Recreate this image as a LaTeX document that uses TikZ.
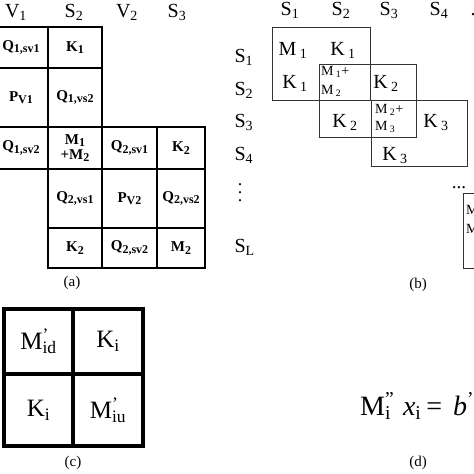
\documentclass[tikz,border=0pt]{standalone}
\usepackage{fontspec}
\setmainfont{Liberation Serif}
\newcommand{\lo}[1]{\raisebox{-0.35ex}{\fontsize{12}{12}\selectfont #1}}
\newcommand{\hilo}[2]{\rlap{\textsuperscript{#1}}\textsubscript{#2}}
\newcommand{\gap}[1]{\,\textsubscript{#1}}

\begin{document}
\begin{tikzpicture}[x=1pt,y=-1pt,
    cell/.style={draw,line width=2.6pt,inner sep=0pt,align=center,
      font=\bfseries\fontsize{15}{15}\selectfont},
    bigcell/.style={draw,line width=4pt,inner sep=0pt,
      font=\fontsize{25}{27}\selectfont},
    hdr/.style={anchor=base,font=\fontsize{20}{22}\selectfont},
    ent/.style={anchor=base,font=\fontsize{20}{21}\selectfont},
    tiny/.style={anchor=north west,inner sep=0pt,align=left,
      font=\fontsize{14}{19}\selectfont},
    caption/.style={font=\fontsize{15}{17}\selectfont},
    blk/.style={line width=0.9pt,black!80}]
  \useasboundingbox (0,0) rectangle (474,474);
  \clip (0,0) rectangle (474,474);

  % (a)
  \node[hdr] (hv1) at (16,17)  {V\textsubscript{1}};
  \node[hdr] (hs2) at (74,17)  {S\textsubscript{2}};
  \node[hdr] (hv2) at (127,17) {V\textsubscript{2}};
  \node[hdr] (hs3) at (177,17) {S\textsubscript{3}};

  \node[cell,minimum width=54pt,minimum height=41pt] (qa) at (21,47.5) {Q\lo{1,sv1}};
  \node[cell,minimum width=54pt,minimum height=41pt] (ka) at (75,47.5) {K\lo{1}};
  \node[cell,minimum width=54pt,minimum height=59pt] (pa) at (21,97.5) {P\lo{V1}};
  \node[cell,minimum width=54pt,minimum height=59pt] (qb) at (75,97.5) {Q\lo{1,vs2}};
  \node[cell,minimum width=54pt,minimum height=42pt] (qc) at (21,148) {Q\lo{1,sv2}};
  \node[cell,minimum width=54pt,minimum height=42pt] (mm) at (75,148) {M\lo{1}\\+M\lo{2}};
  \node[cell,minimum width=55pt,minimum height=42pt] (qd) at (129.5,148) {Q\lo{2,sv1}};
  \node[cell,minimum width=48pt,minimum height=42pt] (kb) at (181,148) {K\lo{2}};
  \node[cell,minimum width=54pt,minimum height=59pt] (qe) at (75,198.5) {Q\lo{2,vs1}};
  \node[cell,minimum width=55pt,minimum height=59pt] (pb) at (129.5,198.5) {P\lo{V2}};
  \node[cell,minimum width=48pt,minimum height=59pt] (qf) at (181,198.5) {Q\lo{2,vs2}};
  \node[cell,minimum width=54pt,minimum height=40pt] (kc) at (75,248) {K\lo{2}};
  \node[cell,minimum width=55pt,minimum height=40pt] (qg) at (129.5,248) {Q\lo{2,sv2}};
  \node[cell,minimum width=48pt,minimum height=40pt] (mb) at (181,248) {M\lo{2}};
  \node[caption] (capa) at (72,283) {(a)};

  % row labels
  \node[hdr,anchor=base west] (r1) at (231,62)  {S\textsubscript{1}};
  \node[hdr,anchor=base west] (r2) at (231,95)  {S\textsubscript{2}};
  \node[hdr,anchor=base west] (r3) at (231,127) {S\textsubscript{3}};
  \node[hdr,anchor=base west] (r4) at (231,160) {S\textsubscript{4}};
  \node[align=center,inner sep=0pt,font=\fontsize{18}{8}\selectfont] (rd) at (240,193) {.\\.\\.};
  \node[hdr,anchor=base west] (rl) at (231,252) {S\textsubscript{L}};

  % (b)
  \node[hdr] (bs1) at (290,15) {S\textsubscript{1}};
  \node[hdr] (bs2) at (341,15) {S\textsubscript{2}};
  \node[hdr] (bs3) at (389,15) {S\textsubscript{3}};
  \node[hdr] (bs4) at (439,15) {S\textsubscript{4}};
  \node[hdr,anchor=base west] (bsd) at (467,15) {...};

  \draw[blk] (272,27) rectangle (370,100);
  \draw[blk] (319,64) rectangle (416,137);
  \draw[blk] (371,100) rectangle (467,166);
  \draw[blk] (463,193) rectangle (490,268);

  \node[ent] (e11) at (293,55)  {M\gap{1}};
  \node[ent] (e12) at (343,55)  {K\gap{1}};
  \node[ent] (e21) at (295,88)  {K\gap{1}};
  \node[tiny] (e22) at (321,66) {M\gap{1}+\\M\gap{2}};
  \node[ent] (e23) at (386,88)  {K\gap{2}};
  \node[ent] (e32) at (345,127) {K\gap{2}};
  \node[tiny,font=\fontsize{14}{17}\selectfont] (e33) at (375,104) {M\gap{2}+\\M\gap{3}};
  \node[ent] (e34) at (436,127) {K\gap{3}};
  \node[ent] (e43) at (395,160) {K\gap{3}};
  \node[hdr,font=\fontsize{19}{19}\selectfont] (edots) at (459,188) {...};
  \node[tiny] (e55) at (466,205) {M\\M};
  \node[caption] (capb) at (418,285) {(b)};

  % (c)
  \node[bigcell,minimum width=69pt,minimum height=65pt] (mid) at (38.5,341.5) {M\hilo{’}{id}};
  \node[bigcell,minimum width=70pt,minimum height=65pt] (kia) at (108,341.5) {K\textsubscript{i}};
  \node[bigcell,minimum width=69pt,minimum height=72pt] (kib) at (38.5,410) {K\textsubscript{i}};
  \node[bigcell,minimum width=70pt,minimum height=72pt] (miu) at (108,410) {M\hilo{’}{iu}};
  \node[caption] (capc) at (73,463) {(c)};

  % (d)
  \node[anchor=base west,inner sep=0pt,font=\fontsize{28}{30}\selectfont] (eq)
    at (360,415) {M\hilo{”}{i}\hspace{12pt}\textit{x}\textsubscript{i}\hspace{5pt}=\hspace{11pt}\textit{b}\textsuperscript{’}};
  \node[caption] (capd) at (418,463) {(d)};
\end{tikzpicture}
\end{document}
